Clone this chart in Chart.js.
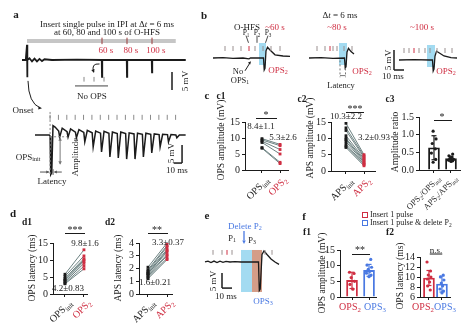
<!DOCTYPE html>
<html>
<head>
<meta charset="utf-8">
<title>OPS / APS figure</title>
<script src="https://cdn.jsdelivr.net/npm/chart.js@4.4.1/dist/chart.umd.min.js"></script>
<style>
  body { margin: 0; background: #fff; }
  #fig { position: relative; width: 474px; height: 323px; overflow: hidden; background: #fff;
         font-family: "Liberation Serif", "Times New Roman", serif; color: #1b1b1b; }
  #fig canvas { position: absolute; left: 0; top: 0; }
  .t { position: absolute; white-space: nowrap; line-height: 1; }
  .t sub { font-size: 68%; vertical-align: -0.3em; line-height: 0; }
  .hl { position: absolute; height: 0; border-top: 1px solid #1b1b1b; }
  .sq { position: absolute; width: 4px; height: 4px; border: 1.2px solid; }
</style>
</head>
<body>
<div id="fig"></div>
<script>
// ---------- data ----------
// a: overview trace (time s, potential mV)
const aOvT = [-4, -1, 0, 0.15, 0.4, 2, 4, 6, 8, 10, 12, 14, 20, 40, 59.8, 60, 60.2, 79.8, 80, 80.2, 99.8, 100, 100.2, 127];
const aOvV = [0, 0, 4.2, -4.8, 0, 0.5, -0.4, 0.4, -0.4, 0.3, -0.3, 0.2, 0, 0.1, 0, -4.7, 0, 0, -4.7, 0, 0, -3.4, 0, 0];
const aHfsSpan = [0, 119];
const aHfsLevel = 5.3;
const aInsertS = [60, 80, 100];
const aInsertLbl = ["60 s", "80 s", "100 s"];

// a: expanded onset trace (time ms, potential mV)
const aZoomT = [-18, -1, 0, 0.8, 2, 3.5, 6,
  10.3, 11.5, 14.5, 20.3, 21.5, 24.5, 30.3, 31.5, 34.5, 40.3, 41.5, 44.5, 50.3, 51.5, 54.5,
  60.3, 61.5, 64.5, 70.3, 71.5, 74.5, 80.3, 81.5, 84.5, 90.3, 91.5, 94.5, 100.3, 101.5, 104.5,
  110.3, 111.5, 114.5, 120.3, 121.5, 124.5, 130.3, 131.5, 134.5, 140.3, 141.5, 144.5, 150.3, 151.5, 154.5, 162];
const aZoomV = [0, 0, -0.3, -11, -10.5, 2.6, 2.2,
  1.1, -0.6, 1.9, 0.9, -0.6, 1.7, 0.8, -0.8, 1.5, 0.7, -1.9, 1.3, 0.6, -3.3, 1.1,
  0.5, -4.7, 1.0, 0.5, -6.1, 0.8, 0.4, -6.4, 0.8, 0.4, -6.7, 0.6, 0.3, -6.7, 0.5,
  0.2, -6.1, 0.5, 0.2, -5.0, 0.3, 0.1, -3.3, 0.2, 0.1, -1.9, 0.1, 0, -0.8, 0, 0];
const aZoomStim = [0, 10, 20, 30, 40, 50, 60, 70, 80, 90, 100, 110, 120, 130, 140, 150];

// b: traces at ~60, ~80, ~100 s (time ms, potential mV)
const b1T = [0, 10, 20, 30, 36, 37.5, 39, 50.5, 51.2, 52, 53, 54.5, 57, 62, 70, 77];
const b1V = [0, 0.1, -0.1, 0, -0.2, 0, 0, 0, -3.0, -2.6, 1.8, 2.7, 2.0, 0.8, 0.5, 0.4];
const b2T = [0, 12, 24, 35.5, 36.2, 37, 38, 39.5, 42, 45];
const b2V = [0, 0.1, -0.1, 0, -2.5, -2.2, 1.5, 2.4, 1.6, 1.0];
const b3T = [0, 15, 30, 33.5, 34.2, 35, 36, 37.5, 40, 45, 52, 58];
const b3V = [0, 0.1, 0, 0, -2.75, -2.3, 1.0, 2.2, 1.8, 1.0, 0.6, 0.5];
const b1Stim = [12, 20, 28, 42, 50, 58, 67], b1Ins = [36], b1Shade = [46, 53];
const b2Stim = [8, 16, 24, 28, 35, 43], b2Ins = [21], b2Shade = [30, 38];
const b3Stim = [5, 10, 20, 26, 31, 38, 46, 53], b3Ins = [15], b3Shade = [28, 36];

// c1 / c2: paired amplitudes (mV)
const cCatsOps = ["OPS<sub>init</sub>", "OPS<sub>2</sub>"];
const cCatsAps = ["APS<sub>init</sub>", "APS<sub>2</sub>"];
const c1Init = [9.8, 9.4, 9.0, 8.6, 7.0, 6.8];
const c1Post = [8.0, 7.6, 6.4, 5.0, 2.4, 2.0];
const c2Init = [14.6, 13.2, 12.4, 10.8, 10.0, 9.6, 9.0, 8.2, 7.6, 7.2];
const c2Post = [5.0, 4.6, 4.2, 3.8, 3.4, 3.0, 2.6, 2.2, 2.0, 1.6];
// c3: amplitude ratio
const c3Cats = ["OPS<sub>2</sub>/OPS<sub>init</sub>", "APS<sub>2</sub>/APS<sub>init</sub>"];
const c3Mean = [0.63, 0.32];
const c3Sd = [0.34, 0.07];
const c3Pts = [[1.1, 0.88, 0.75, 0.6, 0.48, 0.3, 0.22], [0.45, 0.4, 0.36, 0.33, 0.3, 0.28, 0.26, 0.24]];
const c3Jit = [[-0.05, 0.12, -0.1, 0.08, -0.15, 0.1, -0.05], [0.1, -0.12, 0.05, -0.05, 0.15, -0.15, 0.1, 0]];

// d1 / d2: paired latencies (ms)
const d1Init = [5.8, 5.2, 4.6, 4.2, 4.0, 3.6, 3.2, 3.0];
const d1Post = [13.0, 11.2, 10.4, 10.0, 9.6, 9.0, 8.2, 7.4];
const d2Init = [2.1, 1.9, 1.8, 1.7, 1.6, 1.6, 1.5, 1.4, 1.3, 1.2];
const d2Post = [4.0, 3.8, 3.7, 3.5, 3.4, 3.3, 3.1, 3.0, 2.8, 2.7];

// e: trace with P2 deleted (time ms, potential mV)
const eT = [0, 3, 6, 9, 12, 15, 18, 21, 25, 30, 36, 47, 53.5, 54.3, 55.2, 57, 59, 62, 66, 70, 74];
const eV = [0, 0.3, -0.2, 0.3, -0.2, 0.3, -0.1, 0.2, 0, 0.1, 0, 0, 0, -9.5, -9, 2.5, 3.7, 2.5, 1, 0, -0.8];
const eStim = [8, 17, 27, 60, 67], eIns = [22], eShadeDel = [36, 47], eShadeOps = [47, 57];

// f1 / f2: insert 1 pulse (OPS2) vs insert & delete P2 (OPS3)
const fCats = ["OPS<sub>2</sub>", "OPS<sub>3</sub>"];
const f1Mean = [5.3, 8.5], f1Sd = [2.6, 1.9];
const f1Pts = [[7.9, 7.5, 6.2, 5.0, 4.0, 2.5], [12.0, 10.2, 9.5, 8.8, 8.2, 7.6, 7.0, 6.5]];
const f2Mean = [9.8, 8.6], f2Sd = [1.5, 1.6];
const f2Pts = [[13.0, 11.2, 10.4, 10.0, 9.6, 9.0, 8.2, 7.4], [10.4, 10.0, 9.4, 8.8, 8.2, 7.6, 7.2, 6.8]];
const fJit = [[-0.15, 0.12, -0.05, 0.15, -0.12, 0.05, -0.1, 0.1], [0.1, -0.12, 0.15, -0.05, 0.05, -0.15, 0.12, 0]];

// ---------- setup ----------
const W = 474, H = 323;
const INK = "#1b1b1b", RED = "#cf2e42", BLUE = "#4a79e2", PAIR = "#6d8282", TICK = "#9a9090";
const FONT = "'Liberation Serif', 'Times New Roman', serif";
Chart.defaults.font.family = FONT;
Chart.defaults.color = INK;
const fig = document.getElementById("fig");

function newCanvas() {
    const cv = document.createElement("canvas");
    cv.width = W;
    cv.height = H;
    fig.appendChild(cv);
    return cv;
}

function seg(ctx, x1, y1, x2, y2, col, w, dash) {
    ctx.save();
    ctx.strokeStyle = col;
    ctx.lineWidth = w || 1;
    ctx.setLineDash(dash || []);
    ctx.beginPath();
    ctx.moveTo(x1, y1);
    ctx.lineTo(x2, y2);
    ctx.stroke();
    ctx.restore();
}

function head(ctx, x, y, ang, col, s) {
    ctx.save();
    ctx.fillStyle = col;
    ctx.beginPath();
    ctx.moveTo(x, y);
    ctx.lineTo(x - s * Math.cos(ang - 0.45), y - s * Math.sin(ang - 0.45));
    ctx.lineTo(x - s * Math.cos(ang + 0.45), y - s * Math.sin(ang + 0.45));
    ctx.closePath();
    ctx.fill();
    ctx.restore();
}

function ticksAt(ctx, X, Y, times, v0, v1, col) {
    times.forEach(t => seg(ctx, X(t), Y(v0), X(t), Y(v1), col, 1));
}

function shade(ctx, X, Y, span, v0, v1, col) {
    ctx.save();
    ctx.fillStyle = col;
    ctx.fillRect(X(span[0]), Y(v0), X(span[1]) - X(span[0]), Y(v1) - Y(v0));
    ctx.restore();
}

function line(ts, vs, col, w) {
    return {
        data: ts.map((t, i) => ({ x: t, y: vs[i] })),
        showLine: true, borderColor: col, borderWidth: w, pointRadius: 0, tension: 0, clip: false
    };
}

function decorPlugin(under, over) {
    const sx = c => v => c.scales.x.getPixelForValue(v);
    const sy = c => v => c.scales.y.getPixelForValue(v);
    return {
        id: "decor",
        beforeDatasetsDraw(c) { if (under) under(c.ctx, sx(c), sy(c)); },
        afterDatasetsDraw(c) { if (over) over(c.ctx, sx(c), sy(c)); }
    };
}

function traceChart(box, xr, yr, datasets, under, over) {
    return new Chart(newCanvas(), {
        type: "scatter",
        data: { datasets },
        options: {
            responsive: false, animation: false, events: [],
            layout: { padding: { left: box.l, top: box.t, right: W - box.r, bottom: H - box.b } },
            plugins: { legend: { display: false }, tooltip: { enabled: false } },
            scales: {
                x: { type: "linear", display: false, min: xr[0], max: xr[1] },
                y: { type: "linear", display: false, min: yr[0], max: yr[1] }
            }
        },
        plugins: [decorPlugin(under, over)]
    });
}

function axisChart(o) {
    return new Chart(newCanvas(), {
        type: o.type || "scatter",
        data: { datasets: o.datasets },
        options: {
            responsive: false, animation: false, events: [],
            layout: { padding: { left: o.box.l - 30, top: o.box.t, right: W - o.box.r, bottom: H - o.box.b - 12 } },
            plugins: { legend: { display: false }, tooltip: { enabled: false } },
            scales: {
                x: {
                    type: "linear", min: o.xr[0], max: o.xr[1], offset: false,
                    afterBuildTicks: s => { s.ticks = [0, 1].map(v => ({ value: v })); },
                    afterFit: s => { s.height = 12; },
                    ticks: { display: false },
                    grid: { offset: false, drawOnChartArea: false, drawTicks: true, tickLength: 3, color: INK },
                    border: { color: INK, width: 1 }
                },
                y: {
                    type: "linear", min: o.yr[0], max: o.yr[1],
                    afterFit: s => { s.width = 30; },
                    ticks: { stepSize: o.yStep, padding: 2, color: INK, font: { size: 10 }, autoSkip: false,
                             callback: o.yFmt || (v => v) },
                    grid: { drawOnChartArea: false, tickLength: 3, color: INK },
                    border: { color: INK, width: 1 }
                }
            }
        },
        plugins: [decorPlugin(null, o.over)]
    });
}

function pairChart(box, xr, yr, yStep, init, post) {
    const ds = [
        { data: init.map(v => ({ x: 0, y: v })), pointStyle: "rect", pointRadius: 2, backgroundColor: INK, borderWidth: 0 },
        { data: post.map(v => ({ x: 1, y: v })), pointStyle: "rect", pointRadius: 2, backgroundColor: RED, borderWidth: 0 }
    ];
    init.forEach((v, i) => ds.push({
        data: [{ x: 0, y: v }, { x: 1, y: post[i] }],
        showLine: true, borderColor: PAIR, borderWidth: 1, pointRadius: 0
    }));
    return axisChart({ box, xr, yr, yStep, datasets: ds });
}

function barChart(box, xr, yr, yStep, means, sds, pts, jit, cols, yFmt) {
    const ds = [];
    pts.forEach((arr, k) => ds.push({
        type: "scatter",
        data: arr.map((v, i) => ({ x: k + jit[k][i], y: v })),
        pointRadius: 1.6, backgroundColor: cols[k], borderWidth: 0
    }));
    ds.push({
        type: "bar",
        data: means.map((m, k) => ({ x: k, y: m })),
        barThickness: 11, backgroundColor: "rgba(255,255,255,0)", borderColor: cols,
        borderWidth: 1.2, borderSkipped: "start"
    });
    return axisChart({
        box, xr, yr, yStep, yFmt, type: "bar", datasets: ds,
        over: (ctx, X, Y) => {
            means.forEach((m, k) => {
                const x = X(k), hi = Y(m + sds[k]), lo = Y(m - sds[k]);
                seg(ctx, x, lo, x, hi, cols[k], 1.2);
                seg(ctx, x - 2.5, hi, x + 2.5, hi, cols[k], 1.2);
                seg(ctx, x - 2.5, lo, x + 2.5, lo, cols[k], 1.2);
            });
        }
    });
}

// ---------- panel a ----------
traceChart({ l: 22, r: 186, t: 30, b: 95 }, [-4, 127.2], [-9.72, 8.33], [
    line(aOvT, aOvV, INK, 1.8),
    line(aHfsSpan, [aHfsLevel, aHfsLevel], "#c6c6c6", 4)
], null, (ctx, X, Y) => {
    ticksAt(ctx, X, Y, aInsertS, 6.2, 4.4, "#9b3a3a");
    // "No OPS" inset
    ticksAt(ctx, X, Y, [45.6, 53.6, 61.6], -4.7, -6.0, "#888");
    seg(ctx, X(38.4), Y(-7.2), X(64.8), Y(-7.2), "#444", 1);
    ctx.save();
    ctx.strokeStyle = INK; ctx.lineWidth = 1;
    ctx.beginPath();
    ctx.moveTo(X(58), Y(-1.1));
    ctx.quadraticCurveTo(X(51), Y(-0.9), X(53.4), Y(-3.3));
    ctx.stroke();
    ctx.restore();
    head(ctx, X(53.6), Y(-3.6), Math.PI * 0.4, INK, 4);
    // onset arrow
    ctx.save();
    ctx.strokeStyle = INK; ctx.lineWidth = 1;
    ctx.beginPath();
    ctx.moveTo(X(0.8), Y(-5.8));
    ctx.quadraticCurveTo(X(1.2), Y(-12), X(10.5), Y(-13.3));
    ctx.stroke();
    ctx.restore();
    head(ctx, X(12), Y(-13.4), 0.1, INK, 4);
    // 5 mV scale bar
    seg(ctx, X(116), Y(-3.3), X(116), Y(-8.3), INK, 1.5);
});

traceChart({ l: 35, r: 190, t: 105, b: 185 }, [-18, 167.2], [-13.9, 8.33], [
    line(aZoomT, aZoomV, INK, 1.5)
], null, (ctx, X, Y) => {
    ticksAt(ctx, X, Y, aZoomStim, 5.6, 4.2, "#8a8a8a");
    seg(ctx, X(0), Y(6.4), X(0), Y(-11.4), "#888", 1, [2, 2]);
    seg(ctx, X(0), Y(-0.5), X(20), Y(-0.5), "#888", 1, [2, 2]);
    // amplitude arrow
    seg(ctx, X(12), Y(-0.8), X(12), Y(-8.0), "#777", 1);
    head(ctx, X(12), Y(-0.6), -Math.PI / 2, "#777", 4);
    head(ctx, X(12), Y(-8.3), Math.PI / 2, "#777", 4);
    // latency marks
    seg(ctx, X(-12), Y(-10.3), X(-1.5), Y(-10.3), "#555", 1);
    head(ctx, X(-0.8), Y(-10.3), 0, "#555", 3.5);
    seg(ctx, X(14), Y(-10.3), X(5.5), Y(-10.3), "#555", 1);
    head(ctx, X(4.4), Y(-10.3), Math.PI, "#555", 3.5);
    seg(ctx, X(3.6), Y(-9.5), X(3.6), Y(-11.1), "#555", 1);
    // scale bar
    seg(ctx, X(157.7), Y(-2.8), X(157.7), Y(-7.8), INK, 1.5);
    seg(ctx, X(147.7), Y(-7.8), X(157.7), Y(-7.8), INK, 1.5);
});

// ---------- panel b ----------
const cyan = "rgba(140, 210, 238, 0.8)";
traceChart({ l: 213, r: 290, t: 40, b: 75 }, [0, 77], [-4.25, 4.5], [line(b1T, b1V, INK, 1.3)],
    (ctx, X, Y) => shade(ctx, X, Y, b1Shade, 3.75, -1.75, cyan),
    (ctx, X, Y) => {
        ticksAt(ctx, X, Y, b1Stim, 3.0, 1.75, TICK);
        ticksAt(ctx, X, Y, b1Ins, 3.0, 1.75, RED);
        seg(ctx, X(32), Y(-3.2), X(37), Y(-1.2), INK, 1);
        head(ctx, X(38), Y(-0.8), -0.9, INK, 3.5);
        seg(ctx, X(33), Y(5.6), X(35.5), Y(3.8), INK, 0.8);
        seg(ctx, X(44), Y(5.6), X(44), Y(3.8), INK, 0.8);
        seg(ctx, X(55), Y(5.6), X(52.5), Y(3.8), INK, 0.8);
    });
traceChart({ l: 309, r: 354, t: 40, b: 75 }, [0, 45], [-4.25, 4.5], [line(b2T, b2V, INK, 1.3)],
    (ctx, X, Y) => shade(ctx, X, Y, b2Shade, 3.75, -1.75, cyan),
    (ctx, X, Y) => {
        ticksAt(ctx, X, Y, b2Stim, 3.0, 1.75, TICK);
        ticksAt(ctx, X, Y, b2Ins, 3.0, 1.75, RED);
        seg(ctx, X(31), Y(-0.6), X(31), Y(-4.8), "#777", 1, [2, 2]);
        seg(ctx, X(36.5), Y(-2.6), X(36.5), Y(-4.8), "#777", 1, [2, 2]);
        seg(ctx, X(31), Y(-4.4), X(36.5), Y(-4.4), "#777", 1);
    });
traceChart({ l: 399, r: 457, t: 42, b: 77 }, [0, 58], [-4.25, 4.5], [line(b3T, b3V, INK, 1.3)],
    (ctx, X, Y) => shade(ctx, X, Y, b3Shade, 3.75, -1.75, cyan),
    (ctx, X, Y) => {
        ticksAt(ctx, X, Y, b3Stim, 3.0, 1.75, TICK);
        ticksAt(ctx, X, Y, b3Ins, 3.0, 1.75, RED);
        seg(ctx, X(-5), Y(2.5), X(-5), Y(-2.5), INK, 1.5);
        seg(ctx, X(-5), Y(-2.5), X(5), Y(-2.5), INK, 1.5);
    });

// ---------- panel c ----------
pairChart({ l: 245, r: 288, t: 122, b: 170 }, [-0.94, 1.44], [0, 15], 5, c1Init, c1Post);
pairChart({ l: 331, r: 375, t: 122, b: 171 }, [-0.83, 1.61], [0, 15], 5, c2Init, c2Post);
barChart({ l: 419, r: 460, t: 117, b: 170 }, [-0.88, 1.53], [0, 1.5], 0.5, c3Mean, c3Sd, c3Pts, c3Jit,
    [INK, INK], v => v.toFixed(1));

// ---------- panel d ----------
pairChart({ l: 53, r: 87, t: 243, b: 294 }, [-0.63, 1.16], [0, 15], 5, d1Init, d1Post);
pairChart({ l: 139, r: 172, t: 243, b: 294 }, [-0.47, 1.26], [0, 4], 1, d2Init, d2Post);

// ---------- panel e ----------
traceChart({ l: 205, r: 280, t: 240, b: 300 }, [0, 75], [-12.67, 7.33], [line(eT, eV, INK, 1.3)],
    (ctx, X, Y) => {
        shade(ctx, X, Y, eShadeDel, 4, -10, cyan);
        shade(ctx, X, Y, eShadeOps, 4, -10, "rgba(205, 140, 115, 0.85)");
    },
    (ctx, X, Y) => {
        ticksAt(ctx, X, Y, eStim, 4, 2.4, TICK);
        ticksAt(ctx, X, Y, eIns, 4, 2.4, RED);
        seg(ctx, X(39), Y(10.3), X(39), Y(7.2), BLUE, 1.3);
        head(ctx, X(39), Y(6.0), Math.PI / 2, BLUE, 4);
        seg(ctx, X(17), Y(-3.7), X(17), Y(-8.7), INK, 1.5);
        seg(ctx, X(17), Y(-8.7), X(27), Y(-8.7), INK, 1.5);
    });

// ---------- panel f ----------
barChart({ l: 340, r: 376, t: 250, b: 297 }, [-0.706, 1.41], [0, 15], 5, f1Mean, f1Sd, f1Pts, fJit, [RED, BLUE]);
barChart({ l: 420, r: 450, t: 257, b: 297 }, [-0.69, 1.62], [6, 14], 2, f2Mean, f2Sd, f2Pts, fJit, [RED, BLUE]);

// ---------- text ----------
function txt(html, x, y, o = {}) {
    const d = document.createElement("div");
    d.className = "t";
    d.innerHTML = html;
    d.style.left = x + "px";
    d.style.top = y + "px";
    d.style.fontSize = (o.size || 9) + "px";
    if (o.color) d.style.color = o.color;
    if (o.bold) d.style.fontWeight = "bold";
    if (o.under) d.style.textDecoration = "underline";
    if (o.diag) {
        d.style.transformOrigin = "100% 0";
        d.style.transform = "translate(-100%, 0) rotate(-45deg)";
    } else {
        const ax = { l: "0", c: "-50%", r: "-100%" }[o.align || "c"];
        d.style.transform = `translate(${ax}, -50%)` + (o.rot ? ` rotate(${o.rot}deg)` : "");
    }
    fig.appendChild(d);
}
function hline(x1, x2, y) {
    const d = document.createElement("div");
    d.className = "hl";
    d.style.left = x1 + "px";
    d.style.width = (x2 - x1) + "px";
    d.style.top = y + "px";
    fig.appendChild(d);
}

// a
txt("a", 16, 14, { size: 11, bold: true });
txt("Insert single pulse in IPI at Δ<i>t</i> = 6 ms", 107, 24, { size: 9 });
txt("at 60, 80 and 100 s of O-HFS", 107, 32, { size: 9 });
[106, 131, 156].forEach((x, i) => txt(aInsertLbl[i], x, 50, { size: 9, color: RED }));
txt("5 mV", 185, 81, { size: 9, rot: -90 });
txt("No OPS", 92, 96, { size: 9 });
txt("Onset", 23, 110, { size: 9 });
txt("OPS<sub>init</sub>", 28, 157, { size: 9 });
txt("Amplitude", 75, 157, { size: 9, rot: -90 });
txt("Latency", 52, 181, { size: 9 });
txt("5 mV", 171, 153, { size: 9, rot: -90 });
txt("10 ms", 177, 170, { size: 9 });

// b
txt("b", 204, 15, { size: 11, bold: true });
txt("O-HFS", 247, 27, { size: 9 });
txt("~60 s", 275, 27, { size: 9, color: RED });
txt("Δ<i>t</i> = 6 ms", 340, 15, { size: 9 });
txt("~80 s", 337, 27, { size: 9, color: RED });
txt("~100 s", 422, 27, { size: 9, color: RED });
txt("P<sub>1</sub>", 246, 33, { size: 7.5 });
txt("P<sub>2</sub>", 257, 33, { size: 7.5 });
txt("P<sub>3</sub>", 268, 33, { size: 7.5 });
txt("No", 238, 71, { size: 8.5 });
txt("OPS<sub>1</sub>", 240, 80, { size: 8.5 });
txt("OPS<sub>2</sub>", 278, 70, { size: 9, color: RED });
txt("OPS<sub>2</sub>", 362, 71, { size: 9, color: RED });
txt("OPS<sub>2</sub>", 446, 71, { size: 9, color: RED });
txt("Latency", 341, 85, { size: 8.5 });
txt("5 mV", 388, 60, { size: 9, rot: -90 });
txt("10 ms", 393, 76, { size: 9 });

// c
txt("c", 207, 95, { size: 11, bold: true });
txt("c1", 221, 97, { size: 9.5, bold: true });
txt("c2", 302, 100, { size: 9.5, bold: true });
txt("c3", 390, 100, { size: 9.5, bold: true });
txt("OPS amplitude (mV)", 222, 140, { size: 9.5, rot: -90 });
txt("APS amplitude (mV)", 311, 138, { size: 9.5, rot: -90 });
txt("Amplitude ratio", 396, 142, { size: 9.5, rot: -90 });
txt("*", 266, 115, { size: 10 }); hline(256, 277, 118);
txt("8.4±1.1", 261, 126, { size: 9 });
txt("5.3±2.6", 283, 137, { size: 9 });
txt("***", 355, 109, { size: 10 }); hline(346, 364, 112);
txt("10.3±2.2", 346, 116, { size: 9 });
txt("3.2±0.93", 374, 137, { size: 9 });
txt("*", 442, 117, { size: 10 }); hline(434, 452, 120);
txt(cCatsOps[0], 264, 175, { size: 10, diag: true });
txt(cCatsOps[1], 282, 175, { size: 10, diag: true, color: RED });
txt(cCatsAps[0], 348, 176, { size: 10, diag: true });
txt(cCatsAps[1], 366, 176, { size: 10, diag: true, color: RED });
txt(c3Cats[0], 436, 174, { size: 8.5, diag: true });
txt(c3Cats[1], 453, 174, { size: 8.5, diag: true });

// d
txt("d", 13, 213, { size: 11, bold: true });
txt("d1", 27, 223, { size: 9.5, bold: true });
txt("d2", 110, 223, { size: 9.5, bold: true });
txt("OPS latency (ms)", 33, 268, { size: 9.5, rot: -90 });
txt("APS latency (ms)", 119, 268, { size: 9.5, rot: -90 });
txt("***", 75, 230, { size: 10 }); hline(65, 85, 233);
txt("9.8±1.6", 85, 243, { size: 9 });
txt("4.2±0.83", 68, 288, { size: 9 });
txt("**", 157, 230, { size: 10 }); hline(148, 168, 233);
txt("3.3±0.37", 168, 242, { size: 9 });
txt("1.6±0.21", 155, 282, { size: 9 });
txt(cCatsOps[0], 67, 298, { size: 10, diag: true });
txt(cCatsOps[1], 86, 298, { size: 10, diag: true, color: RED });
txt(cCatsAps[0], 150, 298, { size: 10, diag: true });
txt(cCatsAps[1], 169, 298, { size: 10, diag: true, color: RED });

// e
txt("e", 207, 215, { size: 11, bold: true });
txt("Delete P<sub>2</sub>", 245, 226, { size: 9, color: BLUE });
txt("P<sub>1</sub>", 232, 238, { size: 8.5 });
txt("P<sub>3</sub>", 252, 240, { size: 8.5 });
txt("5 mV", 213, 281, { size: 9, rot: -90 });
txt("10 ms", 226, 296, { size: 9 });
txt("OPS<sub>3</sub>", 263, 301, { size: 9, color: BLUE });

// f
txt("f", 304, 216, { size: 11, bold: true });
[[RED, 212, "Insert 1 pulse"], [BLUE, 220, "Insert 1 pulse &amp; delete P<sub>2</sub>"]].forEach(([c, y, s]) => {
    const q = document.createElement("div");
    q.className = "sq";
    q.style.left = "362px";
    q.style.top = y + "px";
    q.style.borderColor = c;
    fig.appendChild(q);
    txt(s, 370, y + 3, { size: 8, align: "l" });
});
txt("f1", 307, 233, { size: 9.5, bold: true });
txt("f2", 390, 233, { size: 9.5, bold: true });
txt("OPS amplitude (mV)", 323, 273, { size: 9.5, rot: -90 });
txt("OPS latency (ms)", 401, 276, { size: 9.5, rot: -90 });
txt("**", 360, 250, { size: 10 }); hline(352, 370, 254);
txt("n.s.", 436, 250, { size: 9, under: true });
txt(fCats[0], 350, 307, { size: 10, color: RED });
txt(fCats[1], 375, 307, { size: 10, color: BLUE });
txt(fCats[0], 423, 307, { size: 10, color: RED });
txt(fCats[1], 445, 307, { size: 10, color: BLUE });
</script>
</body>
</html>
